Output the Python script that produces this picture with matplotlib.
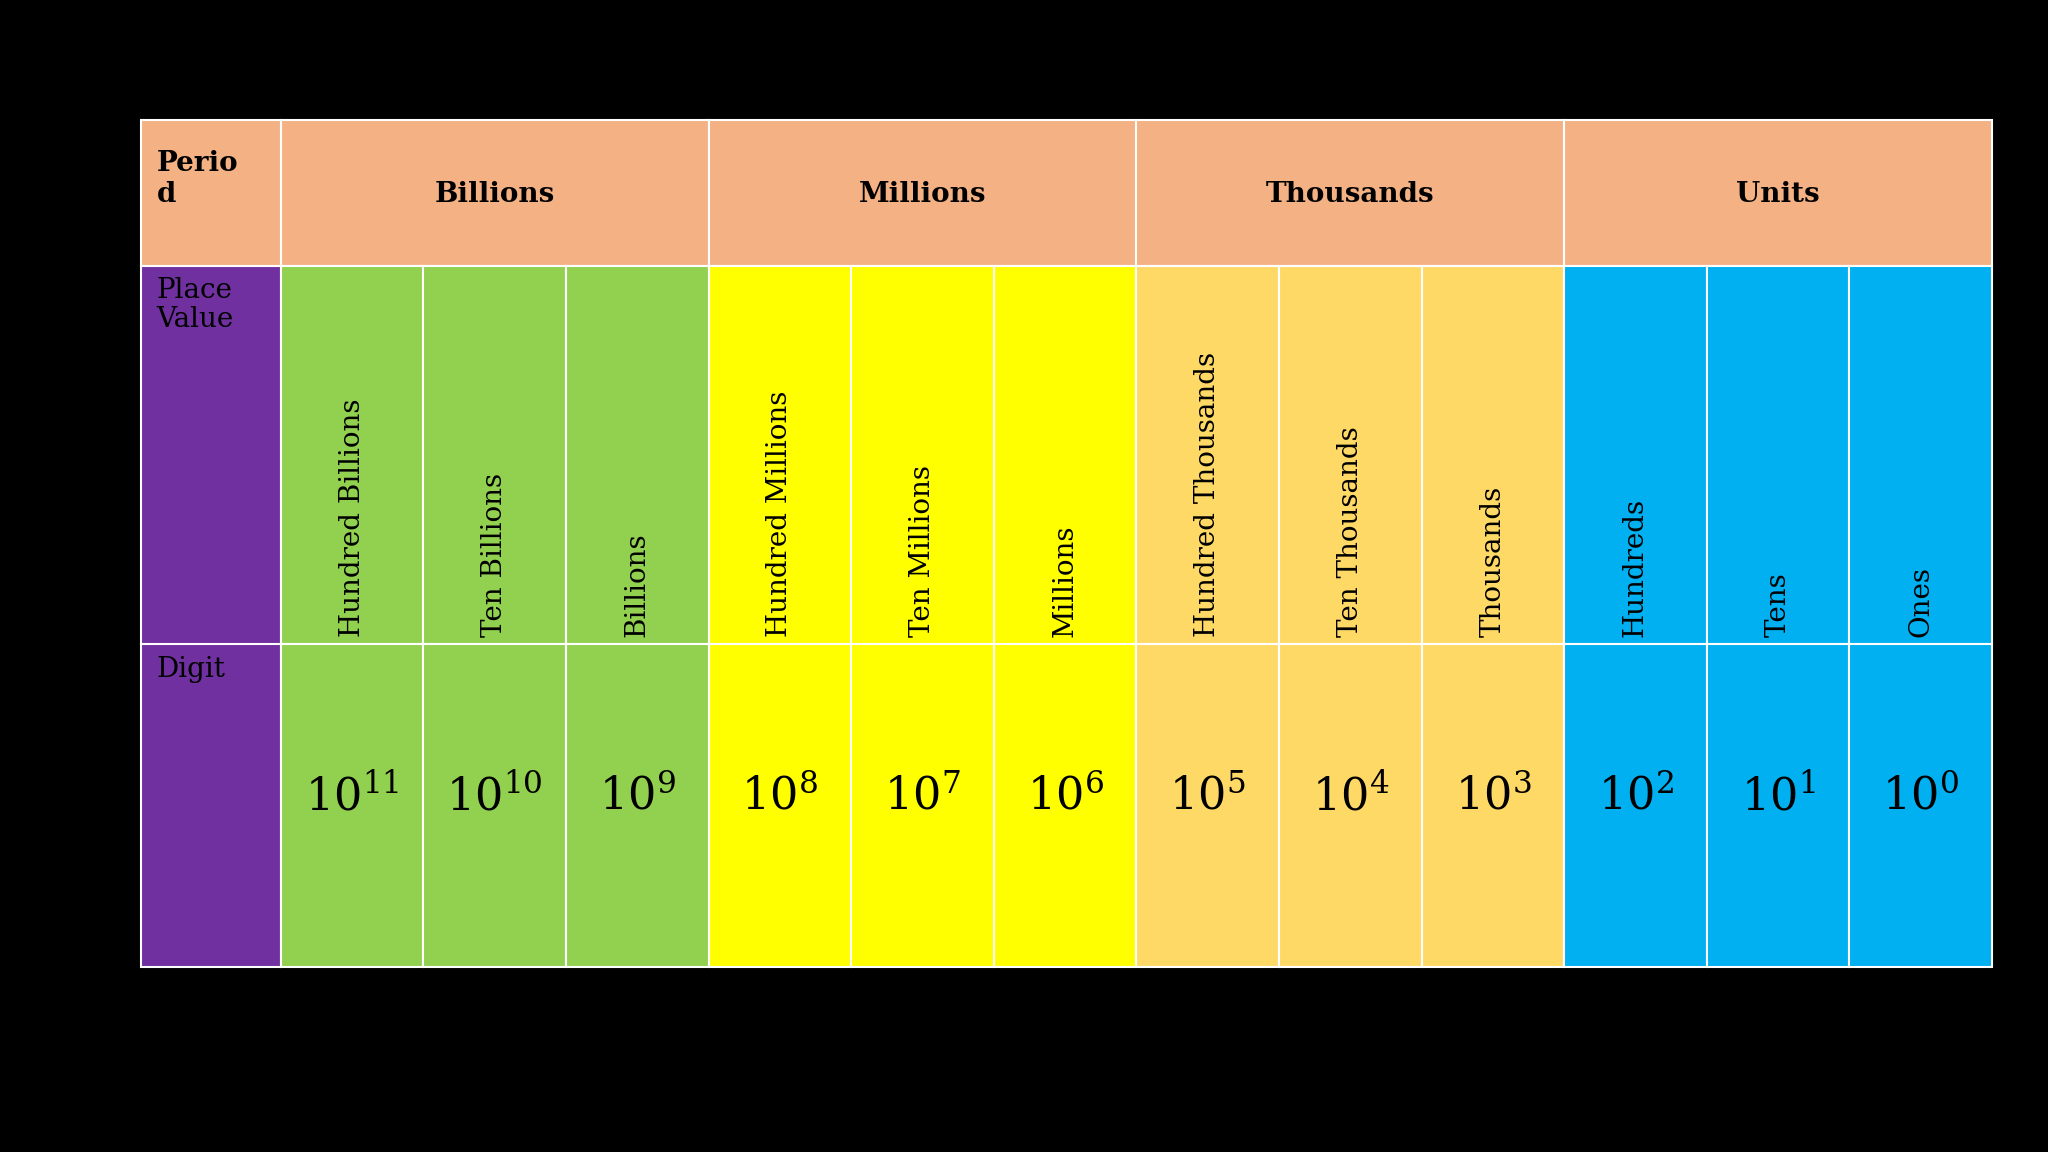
import matplotlib.pyplot as plt
from matplotlib.patches import Rectangle

periods = ["Billions", "Millions", "Thousands", "Units"]
period_colors = ["#92D050", "#FFFF00", "#FFD966", "#00B0F0"]
places = ["Hundred Billions", "Ten Billions", "Billions",
          "Hundred Millions", "Ten Millions", "Millions",
          "Hundred Thousands", "Ten Thousands", "Thousands",
          "Hundreds", "Tens", "Ones"]
exponents = [11, 10, 9, 8, 7, 6, 5, 4, 3, 2, 1, 0]

plt.rcParams['mathtext.fontset'] = 'dejavuserif'
fig = plt.figure(figsize=(20.48, 11.52), dpi=100, facecolor='black')
ax = fig.add_axes([0, 0, 1, 1])
ax.set_xlim(0, 1568)
ax.set_ylim(882, 0)
ax.axis('off')

x0, x1, cw = 108, 215, 109.17
y0, y1, y2, y3 = 92, 204, 493, 740
header = "#F4B183"
ec = dict(edgecolor='white', linewidth=1.5)
serif = "DejaVu Serif"

# first column
ax.add_patch(Rectangle((x0, y0), x1 - x0, y1 - y0, facecolor=header, **ec))
ax.add_patch(Rectangle((x0, y1), x1 - x0, y3 - y1, facecolor="#7030A0", **ec))
ax.plot([x0, x1], [y2, y2], color='white', lw=1.5)
ax.text(120, 115, "Perio\nd", fontsize=20, fontweight='bold', family=serif,
        va='top', ha='left', linespacing=1.2)
ax.text(120, 212, "Place\nValue", fontsize=20, family=serif, va='top', ha='left',
        linespacing=1.1)
ax.text(120, 502, "Digit", fontsize=20, family=serif, va='top', ha='left')

for i, p in enumerate(periods):
    px = x1 + i * 3 * cw
    ax.add_patch(Rectangle((px, y0), 3 * cw, y1 - y0, facecolor=header, **ec))
    ax.text(px + 1.5 * cw, 149, p, fontsize=20, fontweight='bold', family=serif,
            ha='center', va='center')

for j, (name, e) in enumerate(zip(places, exponents)):
    cx = x1 + j * cw
    col = period_colors[j // 3]
    ax.add_patch(Rectangle((cx, y1), cw, y2 - y1, facecolor=col, **ec))
    ax.add_patch(Rectangle((cx, y2), cw, y3 - y2, facecolor=col, **ec))
    ax.text(cx + cw / 2, 488, name, rotation=90, fontsize=20, family=serif,
            ha='center', va='bottom')
    ax.text(cx + cw / 2, 610, r"$10^{%d}$" % e, fontsize=32,
            ha='center', va='center')

fig.savefig("out.png", dpi=100, facecolor='black')
